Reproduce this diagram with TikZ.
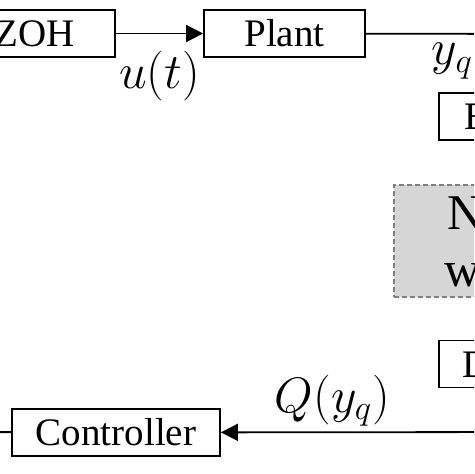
\documentclass[tikz,border=0pt]{standalone}
\usepackage{fontspec}
\setmainfont{Liberation Serif}
\usetikzlibrary{arrows.meta}

\tikzset{
  block/.style={draw,line width=0.9pt,minimum height=23.5pt,inner sep=0pt,font=\fontsize{19.5}{23}\selectfont},
  netbox/.style={draw=gray,fill=black!16,dash pattern=on 2.5pt off 1.5pt,line width=0.7pt,
    minimum width=140.5pt,minimum height=56pt,inner sep=0pt,align=center,font=\fontsize{25}{28.5}\selectfont},
  sig/.style={line width=0.9pt},
  lab/.style={font=\fontsize{25}{29}\selectfont}
}

\begin{document}
\begin{tikzpicture}[x=0.5pt,y=-0.5pt,>={Triangle[length=8.5pt,width=8.5pt]}]
  \useasboundingbox (0,0) rectangle (474,474);
  \clip (0,0) rectangle (474,474);
  % blocks
  \node[block,minimum width=80pt] (zoh) at (35,33.5) {ZOH};
  \node[block,minimum width=80.5pt] (plant) at (284.5,33.5) {Plant};
  \node[block,minimum width=90pt] (enc) at (529,116.5) {Encoder};
  \node[netbox] (net) at (534.5,241) {Network\\with loss};
  \node[block,minimum width=90pt] (dec) at (529,364) {Decoder};
  \node[block,minimum width=104pt] (ctrl) at (116,432.5) {Controller};
  \coordinate (yqc) at (539,34);
  \coordinate (qc) at (539,432);
  \coordinate (uc) at (-30,432);
  % signals
  \draw[sig,->] (zoh) -- node[lab,below=5pt]{$u(t)$} (plant);
  \draw[sig] (plant) -- node[lab,below=1pt]{$y_q$} (yqc);
  \draw[sig,->] (qc) -- node[lab,above=-1pt,pos=0.65]{$Q(y_q)$} (ctrl);
  \draw[sig] (ctrl) -- (uc);
\end{tikzpicture}
\end{document}
